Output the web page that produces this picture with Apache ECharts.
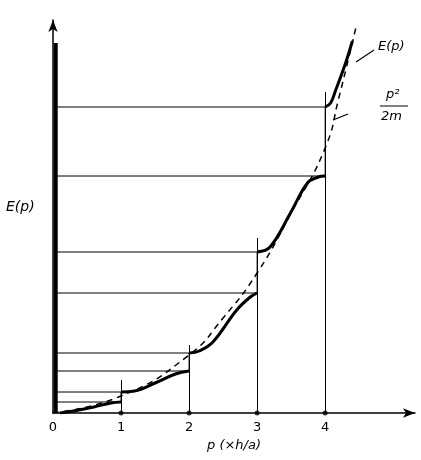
<!DOCTYPE html><html><head><meta charset="utf-8"><script src="https://cdn.jsdelivr.net/npm/echarts@6/dist/echarts.min.js"></script></head><body style="margin:0;background:#fff"><div id="c" style="width:421px;height:460px"></div><script>
const xTicks=[0,1,2,3,4];
const band1=[[0.1,0],[0.3,2],[0.6,6],[0.85,10],[1.0,11]];
const band2=[[1.0,21],[1.2,22],[1.5,30],[1.8,39],[2.0,42]];
const band3=[[2.0,60],[2.15,62],[2.35,71],[2.7,103],[2.9,116],[3.0,120]];
const band4=[[3.0,161],[3.19,166],[3.49,200],[3.74,230],[3.9,236],[4.0,237]];
const band5=[[4.0,306],[4.08,310],[4.15,322],[4.3,350],[4.4,372]];
const freeParabola=[[0,0],[1,17],[2,58],[2.5,95],[3,140],[3.5,200],[4,265],[4.2,315],[4.45,385]];
const gaps=[[1,11,21],[2,42,60],[3,120,161],[4,237,306]];
const vLineTop=[33,68,175,321];
const bandLine=d=>({type:'line',data:d,smooth:0.4,symbol:'none',lineStyle:{color:'#000',width:3},z:5});
const c=echarts.init(document.getElementById('c'));
const areas=gaps.map(g=>[{xAxis:0.05,yAxis:g[1]},{xAxis:g[0],yAxis:g[2]}]);
const vlines=gaps.map((g,i)=>[{coord:[g[0],0]},{coord:[g[0],vLineTop[i]]}]);
c.setOption({animation:false,
grid:{left:53,right:6,top:20,bottom:47},
xAxis:{type:'value',min:0,max:5.32,interval:1,axisLine:{lineStyle:{color:'#000',width:1.5},symbol:['none','arrow'],symbolSize:[7,12]},axisTick:{show:false},splitLine:{show:false},
 axisLabel:{color:'#000',fontSize:13,fontFamily:'DejaVu Sans',formatter:v=>xTicks.includes(v)?String(v):''},
 name:'p (×h/a)',nameLocation:'middle',nameGap:24,nameTextStyle:{color:'#000',fontSize:13,fontStyle:'italic',fontFamily:'DejaVu Sans'}},
yAxis:{type:'value',min:0,max:393,axisLine:{show:true,onZero:false,lineStyle:{color:'#000',width:1.5},symbol:['none','arrow'],symbolSize:[7,12]},axisTick:{show:false},axisLabel:{show:false},splitLine:{show:false}},
graphic:[
 {type:'text',left:6,top:200,style:{text:'E(p)',fontSize:14,fontStyle:'italic',fontFamily:'DejaVu Sans',fill:'#000'}},
 {type:'text',left:378,top:40,style:{text:'E(p)',fontSize:13,fontStyle:'italic',fontFamily:'DejaVu Sans',fill:'#000'}},
 {type:'line',shape:{x1:374,y1:50,x2:356,y2:62},style:{stroke:'#000',lineWidth:1.2}},
 {type:'text',left:386,top:88,style:{text:'p²',fontSize:13,fontStyle:'italic',fontFamily:'DejaVu Sans',fill:'#000'}},
 {type:'line',shape:{x1:380,y1:106,x2:408,y2:106},style:{stroke:'#000',lineWidth:1}},
 {type:'text',left:381,top:110,style:{text:'2m',fontSize:13,fontStyle:'italic',fontFamily:'DejaVu Sans',fill:'#000'}},
 {type:'line',shape:{x1:348,y1:114,x2:333,y2:120},style:{stroke:'#000',lineWidth:1.2}}
],
series:[
 {type:'line',data:freeParabola,smooth:true,symbol:'none',lineStyle:{color:'#000',width:1.5,type:[6,5]},z:4,
  markArea:{silent:true,itemStyle:{color:'rgba(0,0,0,0)',borderColor:'#000',borderWidth:1},data:areas},
  markLine:{silent:true,symbol:'none',label:{show:false},lineStyle:{color:'#000',width:1,type:'solid'},data:vlines}},
 bandLine(band1),bandLine(band2),bandLine(band3),bandLine(band4),bandLine(band5),
 {type:'line',data:[[0.04,0],[0.04,370]],symbol:'none',lineStyle:{color:'#000',width:4},z:6},
 {type:'scatter',data:xTicks.slice(1).map(v=>[v,0]),symbolSize:5,itemStyle:{color:'#000'},z:7}
]});
</script></body></html>
